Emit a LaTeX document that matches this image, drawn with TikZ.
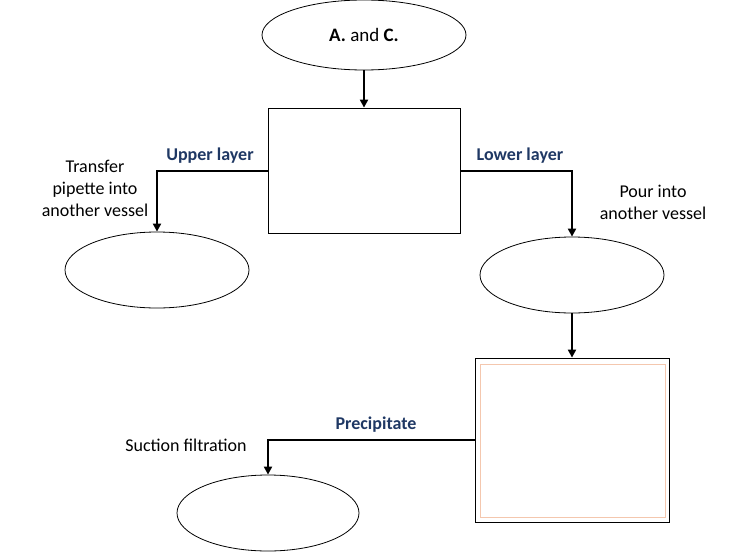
\documentclass[tikz,border=0pt]{standalone}
\usepackage{fontspec}
\setmainfont{Carlito}
\usetikzlibrary{arrows.meta,shapes.geometric}
\definecolor{navy}{HTML}{1F3864}
\definecolor{peach}{HTML}{F4C7AE}
\begin{document}
\begin{tikzpicture}[x=1pt,y=-1pt,
  conn/.style={line width=2.5pt,-{Triangle[length=8pt,width=8pt]}},
  lab/.style={font=\fontsize{18}{20}\selectfont\bfseries,text=navy},
  txt/.style={font=\fontsize{18}{22}\selectfont,align=center}]
\useasboundingbox (0,0) rectangle (754,554);
\node[draw,thick,ellipse,minimum width=204pt,minimum height=70pt,font=\fontsize{19}{22}\selectfont] (top) at (364,35) {\textbf{A.} and \textbf{C.}};
\node[draw,thick,minimum width=192pt,minimum height=125pt] (box) at (364,170.5) {};
\node[draw,thick,ellipse,minimum width=184pt,minimum height=76pt] (le) at (157,270) {};
\node[draw,thick,ellipse,minimum width=184pt,minimum height=76pt] (re) at (572,275) {};
\node[draw,thick,minimum width=194pt,minimum height=164pt] (sq) at (572,440) {};
\node[draw=peach,minimum width=185pt,minimum height=153pt] (sqin) at (572.5,440.5) {};
\node[draw,thick,ellipse,minimum width=182pt,minimum height=76pt] (be) at (268,513) {};
\coordinate (c1) at (157,171);
\coordinate (c2) at (572,171);
\coordinate (c3) at (268,440);
\draw[conn] (top.south) -- (box.north);
\draw[conn] (box.west |- c1) -- (c1) -- (le.north);
\draw[conn] (box.east |- c2) -- (c2) -- (re.north);
\draw[conn] (re.south) -- (sq.north);
\draw[conn] (sq.west |- c3) -- (c3) -- (be.north);
\node[lab] (ul) at (210,156) {Upper layer};
\node[lab] (ll) at (520,156) {Lower layer};
\node[lab] (pr) at (376,425) {Precipitate};
\node[txt] (t1) at (95,188) {Transfer\\pipette into\\another vessel};
\node[txt] (t2) at (653,202) {Pour into\\another vessel};
\node[txt] (t3) at (186,445) {Suction filtration};
\end{tikzpicture}
\end{document}
